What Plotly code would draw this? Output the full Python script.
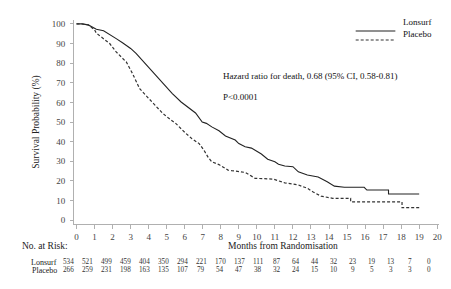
import plotly.graph_objects as go

# --- data ---
lonsurf_month = [0, 0.3, 0.65, 1.1, 1.5, 1.84, 2.2, 2.55, 3.0, 3.3, 3.6, 3.87, 4.1, 4.4, 4.77, 5.0,
                 5.3, 5.8, 6.2, 6.6, 6.97, 7.2, 7.5, 7.9, 8.26, 8.6, 8.8, 9.0, 9.35, 9.7, 10.0,
                 10.25, 10.6, 11.0, 11.2, 11.55, 12.0, 12.3, 12.8, 13.4, 13.9, 14.3, 14.85,
                 15.95, 16.1, 17.3, 17.3, 19.0]
lonsurf_surv = [100, 100, 99.5, 97.3, 96.5, 94.7, 92.5, 90.4, 87.5, 85, 82, 79, 76.5, 74, 70, 67.5,
                64.6, 60.2, 57.5, 54.6, 50, 49.3, 47.5, 45.5, 42.9, 41.5, 40.8, 39, 37.4, 36.7, 35,
                33.7, 31, 29.7, 28.5, 27.6, 27.2, 24.6, 23, 22, 19.5, 17.3, 16.7,
                16.7, 15.3, 15.3, 13.3, 13.3]

placebo_month = [0, 0.3, 0.65, 1.0, 1.1, 1.5, 1.84, 2.2, 2.5, 2.76, 3.1, 3.3, 3.5, 3.8, 4.2, 4.77,
                 5.1, 5.5, 6.06, 6.4, 6.8, 7.06, 7.3, 7.5, 7.9, 8.4, 8.6, 9.0, 9.35, 9.9, 10.9,
                 11.55, 12.3, 12.8, 13.1, 13.56, 14.2, 15.2, 15.2, 18.05, 18.05, 19.05]
placebo_surv = [100, 100, 99.5, 97, 95.3, 92.5, 90, 85.7, 83, 80.6, 74.8, 71, 67, 64, 60.3, 54.5,
                52, 49.3, 44.2, 41.5, 39, 35.7, 32, 29.7, 28.3, 25.5, 25.2, 24.6, 24.3, 21.3, 20.9,
                19, 17.9, 16.2, 14.4, 12.2, 11.1, 11.1, 9.3, 9.3, 6.3, 6.3]

risk_months = list(range(20))
risk_lonsurf = [534, 521, 499, 459, 404, 350, 294, 221, 170, 137, 111, 87, 64, 44, 32, 23, 19, 13, 7, 0]
risk_placebo = [266, 259, 231, 198, 163, 135, 107, 79, 54, 47, 38, 32, 24, 15, 10, 9, 5, 3, 3, 0]

x_ticks = list(range(0, 21))
y_ticks = list(range(0, 101, 10))

FONT = "Liberation Serif"

fig = go.Figure()
fig.add_trace(go.Scatter(x=lonsurf_month, y=lonsurf_surv, mode="lines", name="Lonsurf",
                         line=dict(color="#222222", width=1.1), showlegend=False))
fig.add_trace(go.Scatter(x=placebo_month, y=placebo_surv, mode="lines", name="Placebo",
                         line=dict(color="#333333", width=1.2, dash="3px,2px"), showlegend=False))

fig.update_layout(
    width=451, height=289,
    margin=dict(l=74, r=9, t=20, b=65),
    paper_bgcolor="white", plot_bgcolor="white",
    font=dict(family=FONT, size=9, color="#222222"),
)
fig.update_xaxes(range=[-0.14, 20.1], tickvals=x_ticks, showgrid=False, zeroline=False,
                 showline=True, linecolor="#b0b0b0", linewidth=1,
                 ticks="outside", ticklen=4, tickcolor="#b0b0b0",
                 tickfont=dict(family=FONT, size=9, color="#444444"))
fig.update_yaxes(range=[-2, 102], tickvals=y_ticks, showgrid=False, zeroline=False,
                 showline=True, linecolor="#b0b0b0", linewidth=1,
                 ticks="outside", ticklen=3, tickcolor="#b0b0b0", ticklabelstandoff=3,
                 tickfont=dict(family=FONT, size=9, color="#444444"),
                 title=dict(text="Survival Probability (%)", font=dict(family=FONT, size=9.5, color="#222222"),
                            standoff=10))

ann = []
ann.append(dict(text="Hazard ratio for death, 0.68 (95% CI, 0.58-0.81)", xref="paper", yref="paper",
                x=(222 - 74) / 368, y=(224 - 76) / 204, xanchor="left", yanchor="middle",
                showarrow=False, font=dict(family=FONT, size=9, color="#111111")))
ann.append(dict(text="P<0.0001", xref="paper", yref="paper",
                x=(222 - 74) / 368, y=(224 - 97) / 204, xanchor="left", yanchor="middle",
                showarrow=False, font=dict(family=FONT, size=9, color="#111111")))
# legend
ann.append(dict(text="Lonsurf", xref="paper", yref="paper", x=(404 - 74) / 368, y=(224 - 22) / 204,
                xanchor="left", yanchor="middle", showarrow=False, font=dict(family=FONT, size=9, color="#111111")))
ann.append(dict(text="Placebo", xref="paper", yref="paper", x=(404 - 74) / 368, y=(224 - 33.5) / 204,
                xanchor="left", yanchor="middle", showarrow=False, font=dict(family=FONT, size=9, color="#111111")))
shapes = [
    dict(type="line", xref="paper", yref="paper", x0=(358 - 74) / 368, x1=(398 - 74) / 368,
         y0=(224 - 31) / 204, y1=(224 - 31) / 204, line=dict(color="#222222", width=1.1)),
    dict(type="line", xref="paper", yref="paper", x0=(358 - 74) / 368, x1=(398 - 74) / 368,
         y0=(224 - 40) / 204, y1=(224 - 40) / 204, line=dict(color="#333333", width=1.2, dash="3px,2px")),
]
# x-axis title and risk table
ann.append(dict(text="Months from Randomisation", xref="paper", yref="paper", x=(285 - 74) / 368,
                y=(224 - 245.5) / 204, xanchor="center", yanchor="middle", showarrow=False,
                font=dict(family=FONT, size=9.5, color="#222222")))
ann.append(dict(text="No. at Risk:", xref="paper", yref="paper", x=(20 - 74) / 368,
                y=(224 - 245.5) / 204, xanchor="left", yanchor="middle", showarrow=False,
                font=dict(family=FONT, size=9.5, color="#222222")))
row_y = {"Lonsurf": 262, "Placebo": 270}
for name, vals in (("Lonsurf", risk_lonsurf), ("Placebo", risk_placebo)):
    py = (224 - row_y[name]) / 204
    ann.append(dict(text=name, xref="paper", yref="paper", x=(59 - 74) / 368, y=py,
                    xanchor="right", yanchor="middle", showarrow=False,
                    font=dict(family=FONT, size=8, color="#222222")))
    for m, v in zip(risk_months, vals):
        px = 68 + m * 19.16
        ann.append(dict(text=str(v), xref="paper", yref="paper", x=(px - 74) / 368, y=py,
                        xanchor="center", yanchor="middle", showarrow=False,
                        font=dict(family=FONT, size=7.2, color="#333333")))

fig.update_layout(annotations=ann, shapes=shapes)
fig.write_html("out.html")
